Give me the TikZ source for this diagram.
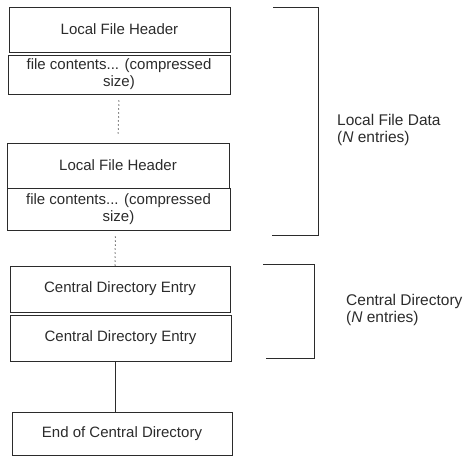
\documentclass[tikz,border=0pt]{standalone}
\usepackage{fontspec}
\setmainfont{Liberation Sans}
\definecolor{ink}{HTML}{2B2B2B}
\tikzset{
  blk/.style={draw=ink, line width=1pt, rectangle, inner sep=0pt, align=center, text=ink, font=\fontsize{15}{17}\selectfont},
  lbl/.style={anchor=west, align=left, inner sep=0pt, text=ink, font=\fontsize{15.5}{17}\selectfont},
  ln/.style={draw=ink, line width=1pt},
  dots/.style={draw=ink, line width=1pt, dash pattern=on 1pt off 3pt}
}
\begin{document}
\begin{tikzpicture}[x=1pt,y=-1pt]
\useasboundingbox (0,0) rectangle (474,461);
\node[blk, minimum width=221pt, minimum height=45pt] (h1) at (119.5,29.5) {Local File Header};
\node[blk, minimum width=222pt, minimum height=39pt] (c1) at (119,74.5) {file contents... (compressed\\size)};
\node[blk, minimum width=222pt, minimum height=45pt] (h2) at (118,165.5) {Local File Header};
\node[blk, minimum width=223pt, minimum height=42pt] (c2) at (118.5,209) {file contents... (compressed\\size)};
\node[blk, minimum width=220pt, minimum height=46pt] (d1) at (120,289) {Central Directory Entry};
\node[blk, minimum width=221pt, minimum height=46pt] (d2) at (120.5,338) {Central Directory Entry};
\node[blk, minimum width=220pt, minimum height=43pt] (e) at (122,433.5) {End of Central Directory};
\draw[dots, shorten <=6pt, shorten >=8pt] (c1.south) -- (h2.north);
\draw[dots, shorten <=6pt] ([xshift=-3pt]c2.south) -- ([xshift=-5pt]d1.north);
\draw[ln] ([xshift=-5.5pt]d2.south) -- ([xshift=-7pt]e.north);
\coordinate (a1) at (273,7);
\coordinate (a2) at (318,7);
\coordinate (a3) at (318,235);
\coordinate (a4) at (272,235);
\draw[ln] (a1) -- (a2) -- (a3) -- (a4);
\coordinate (b1) at (263,264);
\coordinate (b2) at (314,264);
\coordinate (b3) at (314,358);
\coordinate (b4) at (266,358);
\draw[ln] (b1) -- (b2) -- (b3) -- (b4);
\node[lbl] (l1) at (337,130) {Local File Data\\(\textit{N} entries)};
\node[lbl] (l2) at (346,310) {Central Directory\\(\textit{N} entries)};
\end{tikzpicture}
\end{document}
